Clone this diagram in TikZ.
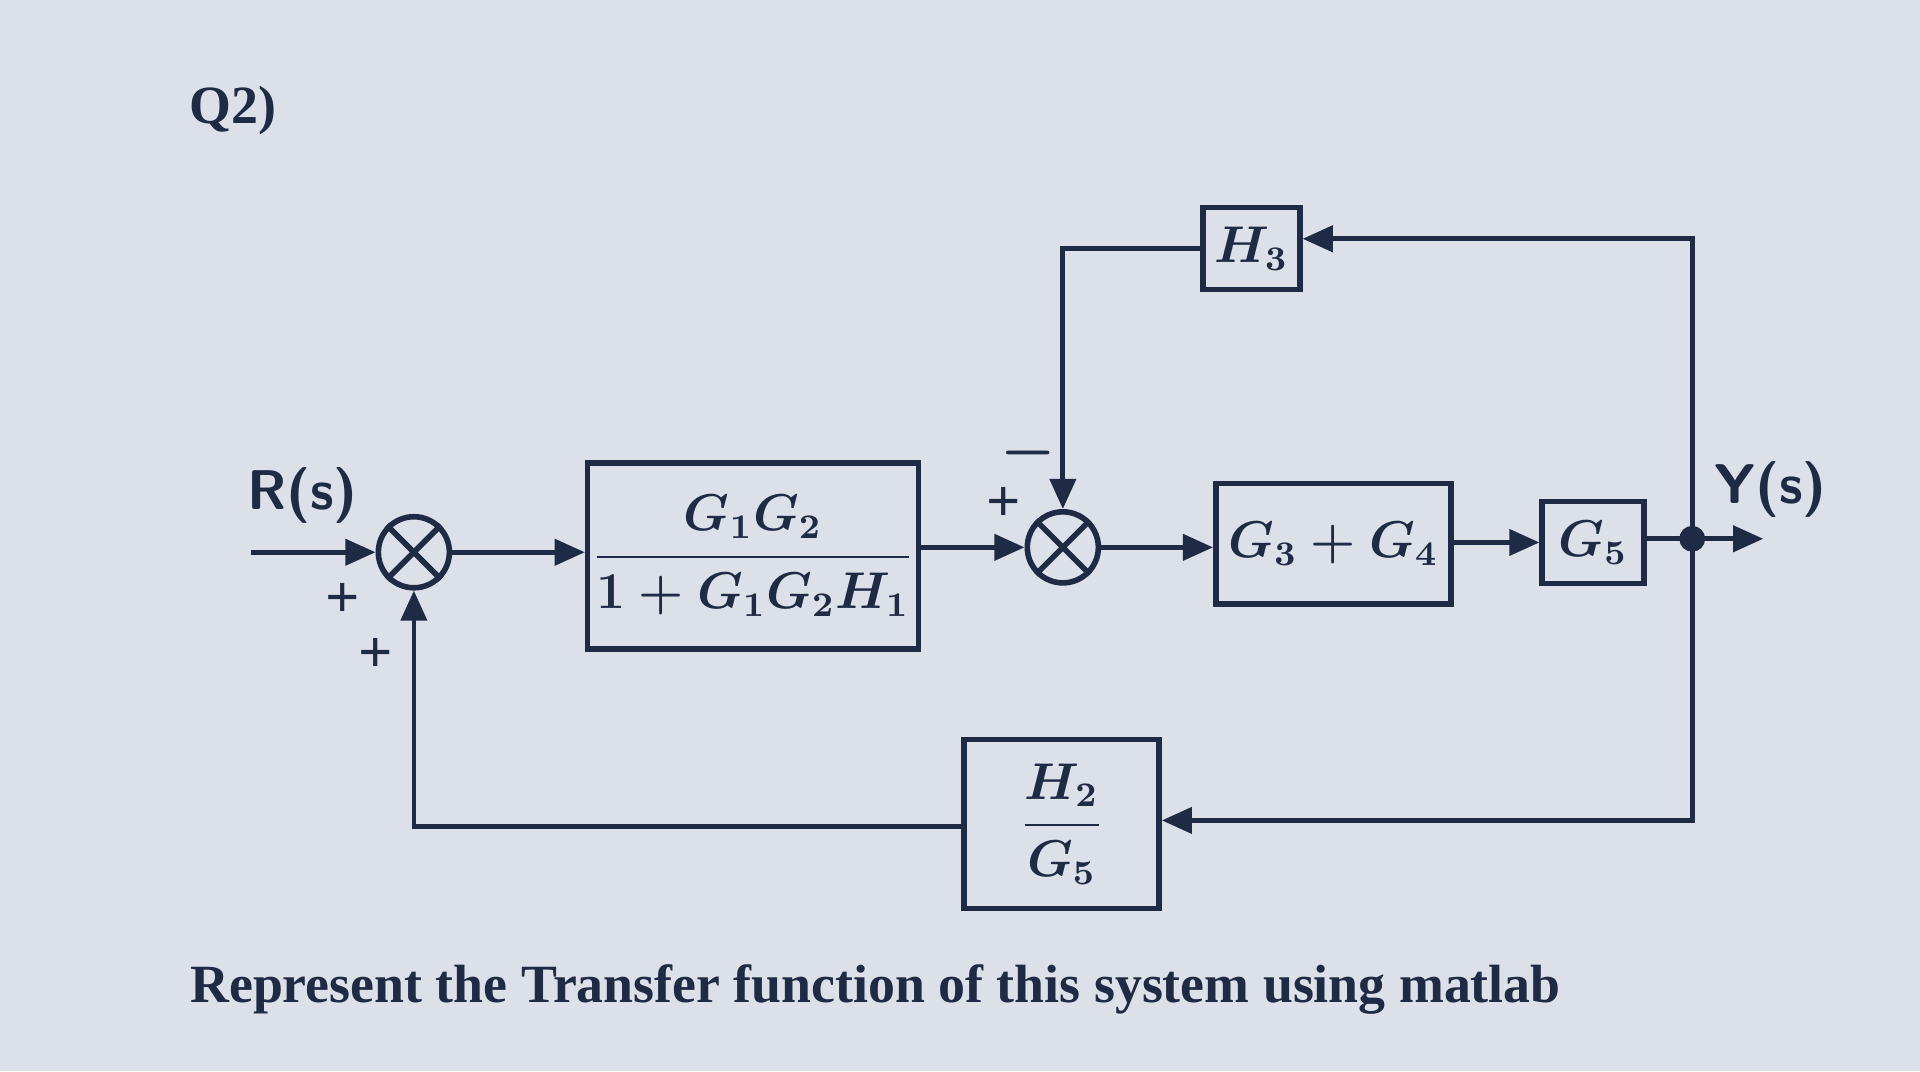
\documentclass[tikz,border=0pt]{standalone}
\usepackage{amsmath,bm}
\usepackage{fontspec}
\setmainfont{Liberation Serif}
\usetikzlibrary{arrows.meta}
\tikzset{mf/.style={font={\fontsize{11.5}{14}\selectfont\boldmath},text=lc}}
\begin{document}
\begin{tikzpicture}[x=0.01cm,y=-0.01cm,
  ln/.style={draw=lc,line width=1.1pt},
  ar/.style={ln,-{Triangle[length=7pt,width=6pt]}},
  blk/.style={draw=lc,line width=1.3pt,fill=none,inner sep=0pt},
  sj/.style={circle,draw=lc,line width=1.3pt,minimum size=0.58cm,inner sep=0pt}]
\definecolor{lc}{HTML}{1F2A44}
\definecolor{bg}{HTML}{DCE0E8}
\fill[bg] (0,0) rectangle (1568,875);
\useasboundingbox (0,0) rectangle (1568,875);
\node[font={\fontsize{12.5}{15}\selectfont\bfseries}, text=lc] (q) at (190,90) {Q2)};
\node[sj] (s1) at (338,451) {};
\draw[lc,line width=1.3pt] (s1.north west)--(s1.south east) (s1.north east)--(s1.south west);
\node[sj] (s2) at (868,447) {};
\draw[lc,line width=1.3pt] (s2.north west)--(s2.south east) (s2.north east)--(s2.south west);
\node[blk,minimum width=2.7cm,minimum height=1.52cm] (b1) at (615,454) {};
\node[mf] (b1t) at (615,454) {$\displaystyle\frac{G_1G_2}{1+G_1G_2H_1}$};
\node[blk,mf,minimum width=1.92cm,minimum height=0.98cm] (b2) at (1089,444) {$G_3+G_4$};
\node[blk,mf,minimum width=0.83cm,minimum height=0.67cm] (g5) at (1301,443) {$G_5$};
\node[blk,mf,minimum width=0.79cm,minimum height=0.67cm] (h3) at (1022,203) {$H_3$};
\node[blk,minimum width=1.59cm,minimum height=1.38cm] (h2) at (867,673) {};
\node[mf] (h2t) at (867,673) {$\displaystyle\frac{H_2}{G_5}$};
\coordinate (in) at (205,451);
\coordinate (bp) at (1382,440);
\coordinate (out) at (1440,440);
\coordinate (t1) at (1382,195);
\coordinate (t2) at (868,203);
\coordinate (u1) at (1382,670);
\coordinate (u2) at (338,675);
\fill[lc] (bp) circle (3pt);
\draw[ar] (in) -- (s1.west);
\draw[ar] (s1.east) -- (b1.west |- s1);
\draw[ar] (b1.east |- s2) -- (s2.west);
\draw[ar] (s2.east) -- (b2.west |- s2);
\draw[ar] (b2.east |- g5) -- (g5.west);
\draw[ar] (g5.east |- bp) -- (out);
\draw[ar] (bp) -- (t1) -- (h3.east |- t1);
\draw[ar] (h3.west) -- (t2) -- (s2.north);
\draw[ar] (bp) -- (u1) -- (h2.east |- u1);
\draw[ar] (h2.west |- u2) -- (u2) -- (s1.south);
\node[font={\sffamily\bfseries\fontsize{13}{15}\selectfont},text=lc] (rl) at (247,405) {R(s)};
\node[font={\sffamily\bfseries\fontsize{13}{15}\selectfont},text=lc] (yl) at (1446,400) {Y(s)};
\node[font={\bfseries\fontsize{14}{16}\selectfont},text=lc] (p1) at (280,490) {+};
\node[font={\bfseries\fontsize{14}{16}\selectfont},text=lc] (p2) at (307,535) {+};
\node[font={\bfseries\fontsize{14}{16}\selectfont},text=lc] (p3) at (820,412) {+};
\node[font={\bfseries\fontsize{14}{16}\selectfont},text=lc] (m1) at (840,370) {$\bm{-}$};
\node[font={\bfseries\fontsize{12.5}{15}\selectfont},text=lc] (cap) at (715,808) {Represent the Transfer function of this system using matlab};
\end{tikzpicture}
\end{document}
